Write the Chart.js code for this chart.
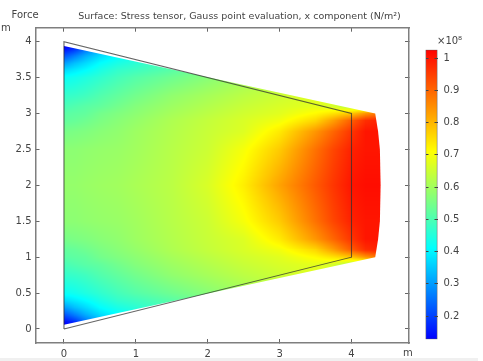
<!DOCTYPE html>
<html>
<head>
<meta charset="utf-8">
<title>Force</title>
<script src="https://cdn.jsdelivr.net/npm/chart.js@4"></script>
<style>
  html, body { margin: 0; padding: 0; background: #fff; overflow: hidden; }
  #wrap { position: relative; width: 483px; height: 361px; }
  #wrap canvas { position: absolute; top: 0; filter: blur(0.35px); }
  #surfaceCanvas { left: 0; }
  #barCanvas { left: 415px; }
  #edge { position: absolute; left: 0; top: 358px; width: 478px; height: 3px; background: #f0f0f0; }
</style>
</head>
<body>
<div id="wrap">
  <canvas id="surfaceCanvas" width="483" height="361"></canvas>
  <canvas id="barCanvas" width="68" height="361"></canvas>
  <div id="edge"></div>
</div>
<script>
const TITLE = 'Surface: Stress tensor, Gauss point evaluation, x component (N/m²)';
const xTicks = [0, 1, 2, 3, 4];
const yTicks = [0, 0.5, 1, 1.5, 2, 2.5, 3, 3.5, 4];
const barTicks = [0.2, 0.3, 0.4, 0.5, 0.6, 0.7, 0.8, 0.9, 1];

// undeformed outline
const outlineX = [0, 0, 4, 4, 0];
const outlineY = [0, 4, 3, 1, 0];

// deformed domain edge
const deformedX = [0, 4.33, 4.37, 4.395, 4.405, 4.395, 4.37, 4.33, 0];
const deformedY = [3.94, 3.0, 2.75, 2.5, 2.0, 1.5, 1.25, 1.0, 0.06];

// stress, x component, in 1e8 N/m2
const xNodes = [0, 0.15, 0.3, 0.5, 0.75, 1, 1.5, 2, 2.5, 3, 3.5, 3.75, 4, 4.2, 4.45];
const yNodes = [4, 3.9, 3.8, 3.7, 3.6, 3.5, 3.25, 3.1, 3, 2.9, 2.75, 2.5, 2,
                1.5, 1.25, 1.1, 1, 0.9, 0.75, 0.5, 0.4, 0.3, 0.2, 0.1, 0];
const stressUpper = [
  [0.09, 0.12, 0.18, 0.26, 0.34, 0.38, 0.44, 0.50, 0.54, 0.57, 0.60, 0.62, 0.64, 0.66, 0.68],
  [0.14, 0.18, 0.25, 0.32, 0.38, 0.41, 0.46, 0.51, 0.55, 0.58, 0.61, 0.63, 0.65, 0.67, 0.69],
  [0.22, 0.27, 0.32, 0.37, 0.41, 0.43, 0.48, 0.52, 0.56, 0.59, 0.62, 0.64, 0.66, 0.68, 0.70],
  [0.30, 0.34, 0.37, 0.41, 0.44, 0.46, 0.50, 0.535, 0.57, 0.60, 0.63, 0.65, 0.67, 0.69, 0.71],
  [0.37, 0.39, 0.41, 0.44, 0.47, 0.485, 0.515, 0.55, 0.58, 0.61, 0.64, 0.66, 0.68, 0.70, 0.72],
  [0.42, 0.43, 0.445, 0.465, 0.49, 0.51, 0.54, 0.57, 0.60, 0.625, 0.65, 0.67, 0.69, 0.71, 0.73],
  [0.47, 0.475, 0.485, 0.505, 0.525, 0.545, 0.58, 0.605, 0.63, 0.65, 0.67, 0.67, 0.66, 0.66, 0.68],
  [0.495, 0.505, 0.515, 0.525, 0.545, 0.565, 0.595, 0.62, 0.645, 0.665, 0.68, 0.66, 0.62, 0.60, 0.70],
  [0.515, 0.52, 0.525, 0.545, 0.56, 0.575, 0.605, 0.63, 0.655, 0.675, 0.715, 0.745, 0.78, 0.84, 0.90],
  [0.525, 0.53, 0.54, 0.555, 0.57, 0.585, 0.615, 0.64, 0.665, 0.695, 0.76, 0.83, 0.91, 0.97, 0.99],
  [0.55, 0.555, 0.56, 0.57, 0.58, 0.595, 0.62, 0.645, 0.67, 0.735, 0.84, 0.90, 0.96, 1.0, 1.0],
  [0.575, 0.575, 0.58, 0.585, 0.59, 0.60, 0.625, 0.65, 0.70, 0.775, 0.885, 0.94, 0.985, 1.0, 1.0],
  [0.585, 0.585, 0.59, 0.595, 0.60, 0.61, 0.63, 0.665, 0.73, 0.825, 0.915, 0.96, 1.0, 1.01, 1.01],
];
// the plate is symmetric about y = 2
const stressRows = stressUpper.concat(stressUpper.slice(0, -1).reverse());

const barMin = 0.128;
const barMax = 1.026;
const paletteStops = [0.128, 0.41, 0.71, 1.026];
const paletteColors = [[0, 0, 255], [0, 255, 255], [255, 255, 0], [255, 0, 0]];

const FONT = 'DejaVu Sans';
const INK = '#444';
const AXIS = '#7f7f7f';

function stressColor(v) {
  let i = 0;
  while (i < paletteStops.length - 2 && v > paletteStops[i + 1]) i++;
  let t = (v - paletteStops[i]) / (paletteStops[i + 1] - paletteStops[i]);
  t = Math.max(0, Math.min(1, t));
  const a = paletteColors[i], b = paletteColors[i + 1];
  return [a[0] + (b[0] - a[0]) * t, a[1] + (b[1] - a[1]) * t, a[2] + (b[2] - a[2]) * t];
}

// paints the quads between the dataset's nodes, clipped to the deformed edge
const surfacePlugin = {
  id: 'surface',
  beforeDatasetsDraw(chart) {
    const nodes = chart.getDatasetMeta(0).data;
    const cols = xNodes.length;
    const w = chart.width, h = chart.height;
    const off = document.createElement('canvas');
    off.width = w; off.height = h;
    const octx = off.getContext('2d');
    const img = octx.createImageData(w, h);
    for (let r = 0; r < yNodes.length - 1; r++) {
      for (let c = 0; c < cols - 1; c++) {
        const tl = nodes[r * cols + c];
        const br = nodes[(r + 1) * cols + c + 1];
        const v00 = stressRows[r][c], v01 = stressRows[r][c + 1];
        const v10 = stressRows[r + 1][c], v11 = stressRows[r + 1][c + 1];
        for (let py = Math.floor(tl.y); py < Math.ceil(br.y); py++) {
          const ty = Math.max(0, Math.min(1, (py + 0.5 - tl.y) / (br.y - tl.y)));
          for (let px = Math.floor(tl.x); px < Math.ceil(br.x); px++) {
            const tx = Math.max(0, Math.min(1, (px + 0.5 - tl.x) / (br.x - tl.x)));
            const top = v00 + (v01 - v00) * tx;
            const bot = v10 + (v11 - v10) * tx;
            const col = stressColor(top + (bot - top) * ty);
            const k = (py * w + px) * 4;
            img.data[k] = col[0]; img.data[k + 1] = col[1]; img.data[k + 2] = col[2]; img.data[k + 3] = 255;
          }
        }
      }
    }
    octx.putImageData(img, 0, 0);
    const ctx = chart.ctx;
    ctx.save();
    ctx.beginPath();
    deformedX.forEach((x, i) => {
      const px = chart.scales.x.getPixelForValue(x);
      const py = chart.scales.y.getPixelForValue(deformedY[i]);
      if (i === 0) ctx.moveTo(px, py); else ctx.lineTo(px, py);
    });
    ctx.closePath();
    ctx.clip();
    ctx.drawImage(off, 0, 0);
    ctx.restore();
  }
};

const notesPlugin = {
  id: 'notes',
  afterDraw(chart) {
    const ctx = chart.ctx;
    ctx.save();
    ctx.fillStyle = INK;
    ctx.font = '10px "' + FONT + '"';
    ctx.textBaseline = 'middle';
    ctx.fillText('Force', 11.5, 15.5);
    ctx.fillText('m', 1, 28);
    ctx.fillText('m', 403, 353);
    ctx.restore();
  }
};

// tick labels get clipped to the scale's box, so the box has to be the real margin
function fixedBox(size) {
  return scale => {
    if (scale.isHorizontal()) scale.height = size; else scale.width = size;
  };
}

function axis(position, min, max, tickList, showLabels, padding, box) {
  return {
    type: 'linear',
    position: position,
    min: min,
    max: max,
    afterBuildTicks: s => { s.ticks = tickList.map(v => ({ value: v })); },
    afterFit: fixedBox(box),
    border: { display: true, color: AXIS, width: 1.5 },
    grid: { drawOnChartArea: false, tickLength: -4, tickColor: '#666', tickWidth: 1 },
    ticks: {
      display: showLabels,
      autoSkip: false,
      maxRotation: 0,
      padding: padding,
      color: INK,
      font: { family: FONT, size: 10 },
      callback: v => String(v)
    }
  };
}

const nodePoints = [];
yNodes.forEach((y, r) => xNodes.forEach(x => nodePoints.push({ x: x, y: y })));

new Chart(document.getElementById('surfaceCanvas').getContext('2d'), {
  type: 'scatter',
  data: {
    datasets: [
      { label: 'Stress', data: nodePoints, pointRadius: 0, showLine: false },
      {
        label: 'Outline',
        data: outlineX.map((x, i) => ({ x: x, y: outlineY[i] })),
        showLine: true,
        pointRadius: 0,
        borderColor: 'rgba(50,50,50,0.75)',
        borderWidth: 1.1,
        tension: 0
      }
    ]
  },
  options: {
    responsive: false,
    animation: false,
    layout: { padding: { left: 0, right: 4, top: 0, bottom: 0 } },
    plugins: {
      legend: { display: false },
      tooltip: { enabled: false },
      title: {
        display: true,
        text: TITLE,
        color: INK,
        font: { family: FONT, size: 9.5, weight: 'normal' },
        padding: { top: 11, bottom: 5.3 }
      }
    },
    scales: {
      x: axis('bottom', -0.396, 4.8, xTicks, true, 9, 18),
      xTop: axis('top', -0.396, 4.8, xTicks, false, 0, 0),
      y: axis('left', -0.195, 4.195, yTicks, true, 8, 35.5),
      yRight: axis('right', -0.195, 4.195, yTicks, false, 0, 70)
    }
  },
  plugins: [surfacePlugin, notesPlugin]
});

function barAxis(position, showLabels, box) {
  return {
    type: 'linear',
    position: position,
    min: barMin,
    max: barMax,
    afterBuildTicks: s => { s.ticks = barTicks.map(v => ({ value: v })); },
    afterFit: fixedBox(box),
    border: { display: false },
    grid: { drawOnChartArea: false, tickLength: -3, tickColor: '#444', tickWidth: 1, z: 1 },
    ticks: {
      display: showLabels,
      autoSkip: false,
      padding: 9,
      color: INK,
      font: { family: FONT, size: 10 },
      callback: v => String(v)
    }
  };
}

function barFill(ctx) {
  const chart = ctx.chart;
  if (!chart.chartArea) return '#888';
  const g = chart.ctx.createLinearGradient(0, chart.chartArea.bottom, 0, chart.chartArea.top);
  paletteStops.forEach((v, i) => {
    const c = paletteColors[i];
    g.addColorStop((v - barMin) / (barMax - barMin), 'rgb(' + c.join(',') + ')');
  });
  return g;
}

new Chart(document.getElementById('barCanvas').getContext('2d'), {
  type: 'bar',
  data: {
    labels: [''],
    datasets: [{
      data: [[barMin, barMax]],
      backgroundColor: barFill,
      borderColor: '#555',
      borderWidth: 1,
      borderSkipped: false,
      barPercentage: 1,
      categoryPercentage: 1
    }]
  },
  options: {
    responsive: false,
    animation: false,
    layout: { padding: { left: 10.5, right: 0, top: 49.7, bottom: 21.7 } },
    plugins: { legend: { display: false }, tooltip: { enabled: false } },
    scales: {
      x: { display: false },
      y: barAxis('right', true, 45.5),
      yLeft: barAxis('left', false, 0)
    }
  },
  plugins: [{
    id: 'barUnit',
    afterDraw(chart) {
      const ctx = chart.ctx;
      ctx.save();
      ctx.fillStyle = INK;
      ctx.font = '10px "' + FONT + '"';
      ctx.textBaseline = 'middle';
      ctx.fillText('×10⁸', 22, 41);
      ctx.restore();
    }
  }]
});
</script>
</body>
</html>
